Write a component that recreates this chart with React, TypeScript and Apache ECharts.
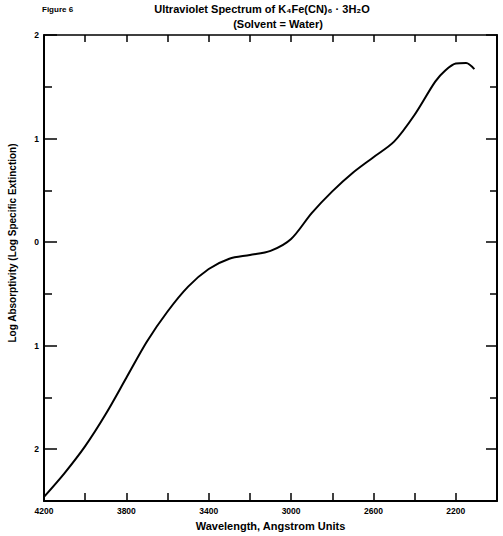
import React, { useEffect, useRef } from "react";
import * as echarts from "echarts";

const wavelengths = [4200, 4100, 4000, 3900, 3800, 3700, 3600, 3500, 3400, 3300, 3200, 3100, 3000, 2900, 2800, 2700, 2600, 2500, 2400, 2300, 2250, 2200, 2150, 2110];
const absorptivity = [-2.46, -2.23, -1.97, -1.66, -1.31, -0.96, -0.67, -0.43, -0.26, -0.16, -0.125, -0.085, 0.03, 0.28, 0.49, 0.67, 0.82, 0.97, 1.23, 1.55, 1.66, 1.725, 1.73, 1.67];
const xTickLabels = [4200, 3800, 3400, 3000, 2600, 2200];
const yMajor = [-2, -1, 0, 1, 2];
const yMinor = [-1.5, -0.5, 0.5, 1.5];

const FONT = '"Liberation Sans", Arial, sans-serif';

export default function App() {
  const ref = useRef<HTMLDivElement>(null);
  useEffect(() => {
    const chart = echarts.init(ref.current!, null, { renderer: "svg" });
    const data = wavelengths.map((w, i) => [w, absorptivity[i]]);
    const xBase = {
      type: "value" as const,
      min: 2000,
      max: 4200,
      interval: 200,
      inverse: true,
      splitLine: { show: false },
    };
    const yBase = {
      type: "value" as const,
      min: -2.5,
      max: 2,
      splitLine: { show: false },
    };
    chart.setOption({
      animation: false,
      backgroundColor: "#fff",
      grid: { left: 44, right: 6, top: 35, bottom: 35 },
      graphic: [
        { type: "text", x: 42, y: 9, style: { text: "Figure 6", fill: "#000", font: `bold 8px ${FONT}`, textAlign: "left", textVerticalAlign: "middle" } },
        { type: "text", x: 262, y: 9, style: { text: "Ultraviolet Spectrum of K₄Fe(CN)₆ · 3H₂O", fill: "#000", font: `bold 11px ${FONT}`, textAlign: "center", textVerticalAlign: "middle" } },
        { type: "text", x: 278, y: 24, style: { text: "(Solvent = Water)", fill: "#000", font: `bold 11px ${FONT}`, textAlign: "center", textVerticalAlign: "middle" } },
        { type: "text", x: 12, y: 243, rotation: Math.PI / 2, style: { text: "Log Absorptivity (Log Specific Extinction)", fill: "#000", font: `bold 10px ${FONT}`, textAlign: "center", textVerticalAlign: "middle" } },
      ],
      xAxis: [
        {
          ...xBase,
          position: "bottom",
          axisLine: { onZero: false, lineStyle: { color: "#000", width: 2 } },
          axisTick: { inside: true, length: 8, lineStyle: { color: "#000", width: 1.5 } },
          axisLabel: {
            color: "#000",
            fontSize: 8.5,
            fontWeight: "bold",
            fontFamily: FONT,
            margin: 5,
            formatter: (v: number) => (xTickLabels.includes(v) ? String(v) : ""),
          },
          name: "Wavelength, Angstrom Units",
          nameLocation: "middle",
          nameGap: 19,
          nameTextStyle: { color: "#000", fontSize: 11, fontWeight: "bold", fontFamily: FONT },
        },
        {
          ...xBase,
          position: "top",
          axisLine: { onZero: false, lineStyle: { color: "#000", width: 1.5 } },
          axisTick: { inside: true, length: 7, lineStyle: { color: "#000", width: 1.5 } },
          axisLabel: { show: false },
        },
      ],
      yAxis: [
        {
          ...yBase,
          position: "left",
          axisLine: { show: true, onZero: false, lineStyle: { color: "#000", width: 2 } },
          axisTick: { show: true, inside: true, length: 13, customValues: yMajor, lineStyle: { color: "#000", width: 1.5 } },
          axisLabel: {
            customValues: yMajor,
            color: "#000",
            fontSize: 8.5,
            fontWeight: "bold",
            fontFamily: FONT,
            margin: 5,
            formatter: (v: number) => String(Math.abs(v)),
          },
        },
        {
          ...yBase,
          position: "left",
          axisLine: { show: false, onZero: false },
          axisTick: { show: true, inside: true, length: 8, customValues: yMinor, lineStyle: { color: "#000", width: 1.5 } },
          axisLabel: { show: false },
        },
        {
          ...yBase,
          position: "right",
          axisLine: { show: true, onZero: false, lineStyle: { color: "#000", width: 2 } },
          axisTick: { show: true, inside: true, length: 11, customValues: yMajor, lineStyle: { color: "#000", width: 1.5 } },
          axisLabel: { show: false },
        },
        {
          ...yBase,
          position: "right",
          axisLine: { show: false, onZero: false },
          axisTick: { show: true, inside: true, length: 7, customValues: yMinor, lineStyle: { color: "#000", width: 1.5 } },
          axisLabel: { show: false },
        },
      ],
      series: [
        {
          type: "line",
          xAxisIndex: 0,
          yAxisIndex: 0,
          data,
          showSymbol: false,
          smooth: 0.3,
          lineStyle: { color: "#000", width: 2 },
        },
      ],
    });
    return () => chart.dispose();
  }, []);
  return <div ref={ref} style={{ position: "fixed", left: 0, top: 0, width: 503, height: 536 }} />;
}
